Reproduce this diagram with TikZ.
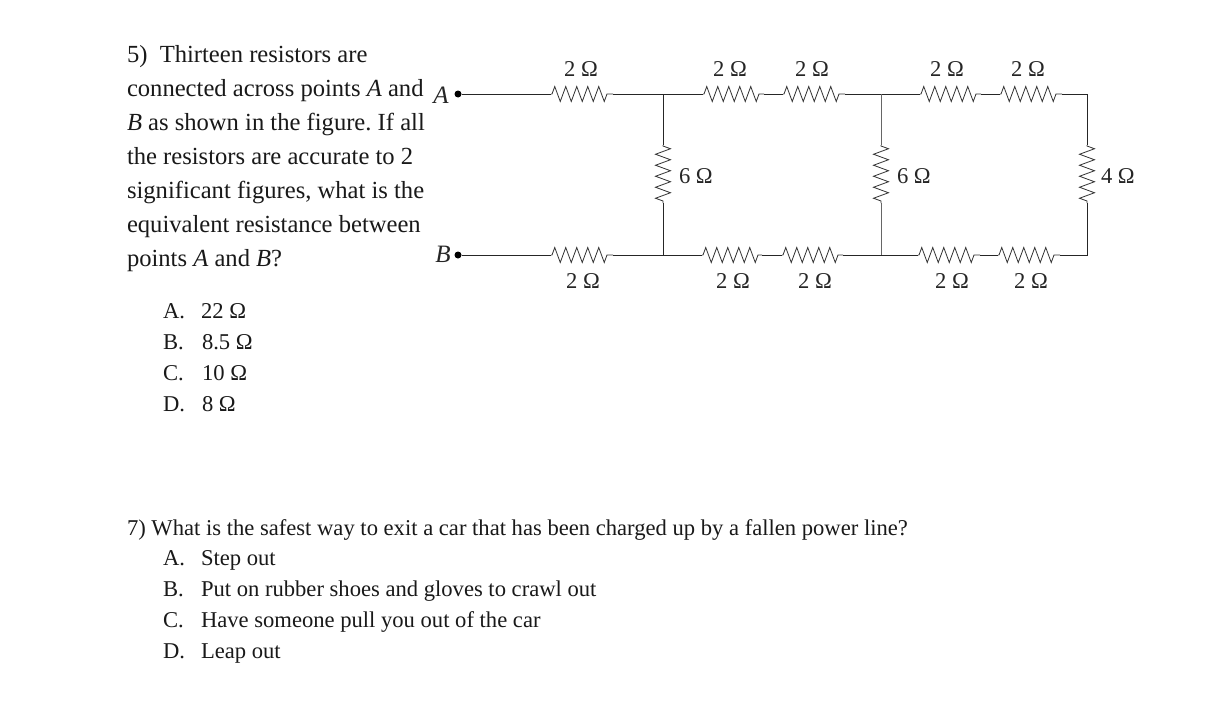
\documentclass[tikz,border=0pt]{standalone}
\usepackage{fontspec}
\setmainfont{Liberation Serif}
\usetikzlibrary{decorations.pathmorphing}
\tikzset{
  txt/.style={anchor=base west,inner sep=0pt,outer sep=0pt,font=\fontsize{22.6}{27}\selectfont\frenchspacing,text=black!90},
  txtb/.style={txt,font=\fontsize{24.6}{29}\selectfont\frenchspacing},
  lab/.style={anchor=base,inner sep=0pt,outer sep=0pt,font=\fontsize{22.6}{26}\selectfont,text=black!85},
  pole/.style={lab,font=\fontsize{25}{29}\selectfont\itshape},
  wire/.style={draw=black!85,line width=1pt},
  res/.style={draw=black!80,line width=.8pt,line join=miter,decorate,decoration={zigzag,segment length=11pt,amplitude=7.5pt,pre length=1pt,post length=1pt}},
  term/.style={circle,fill=black,inner sep=0pt,minimum size=7pt}
}
\begin{document}
\begin{tikzpicture}[x=1pt,y=-1pt]
\useasboundingbox (0,0) rectangle (1224,720);
\fill[white] (0,0) rectangle (1224,720);
% question 5
\node[txtb] (q1) at (127,62) {5)\ \ Thirteen resistors are};
\node[txtb] (q2) at (127,96.5) {connected across points \textit{A} and};
\node[txtb] (q3) at (127,130) {\textit{B} as shown in the figure. If all};
\node[txtb] (q4) at (127,164) {the resistors are accurate to 2};
\node[txtb] (q5) at (127,198) {significant figures, what is the};
\node[txtb] (q6) at (127,232) {equivalent resistance between};
\node[txtb] (q7) at (127,266) {points \textit{A} and \textit{B}?};
\node[txt] (a1) at (163,318) {A.}; \node[txt] (a1t) at (201,318) {22 Ω};
\node[txt] (a2) at (163,349) {B.}; \node[txt] (a2t) at (202,349) {8.5 Ω};
\node[txt] (a3) at (163,380) {C.}; \node[txt] (a3t) at (202,380) {10 Ω};
\node[txt] (a4) at (163,411) {D.}; \node[txt] (a4t) at (202,411) {8 Ω};
% question 7
\node[txt] (r1) at (127,535) {7) What is the safest way to exit a car that has been charged up by a fallen power line?};
\node[txt] (b1) at (163,565) {A.}; \node[txt] (b1t) at (201,565) {Step out};
\node[txt] (b2) at (163,596) {B.}; \node[txt] (b2t) at (201,596) {Put on rubber shoes and gloves to crawl out};
\node[txt] (b3) at (163,627) {C.}; \node[txt] (b3t) at (201,627) {Have someone pull you out of the car};
\node[txt] (b4) at (163,658) {D.}; \node[txt] (b4t) at (201,658) {Leap out};
% terminals
\node[term] (A) at (458,94) {};
\node[term] (B) at (458,255) {};
\node[pole] (Al) at (441,103) {A};
\node[pole] (Bl) at (443,262) {B};
% circuit points
\foreach \n/\x in {a/551,b/613,J/663,c/703,d/764,e/783,f/845,K/881,g/920,h/981,i/1000,j/1062,R/1087}
  \coordinate (t\n) at (\x,94);
\foreach \n/\x in {a/551,b/613,J/663,c/702,d/762,e/782,f/843,K/881,g/918,h/980,i/998,j/1060,R/1087}
  \coordinate (u\n) at (\x,255);
\foreach \n/\x in {J/663,K/881,R/1087}{
  \coordinate (v\n1) at (\x,145);
  \coordinate (v\n2) at (\x,203);
}
% wires
\draw[wire] (A) -- (ta) (tb) -- (tc) (td) -- (te) (tf) -- (tg) (th) -- (ti);
\draw[wire] (tj) -- (tR) -- (vR1) (vR2) -- (uR) -- (uj);
\draw[wire] (B) -- (ua) (ub) -- (uc) (ud) -- (ue) (uf) -- (ug) (uh) -- (ui);
\draw[wire] (tJ) -- (vJ1) (vJ2) -- (uJ);
\draw[wire,draw=black!60] (tK) -- (vK1) (vK2) -- (uK);
% resistors
\foreach \p/\q in {ta/tb,tc/td,te/tf,tg/th,ti/tj,ua/ub,uc/ud,ue/uf,ug/uh,ui/uj,vJ1/vJ2,vK1/vK2,vR1/vR2}
  \draw[res] (\p) -- (\q);
% labels
\foreach \n/\x in {1/581,2/730,3/812,4/947,5/1028}
  \node[lab] (lt\n) at (\x,76) {2 Ω};
\foreach \n/\x in {1/583,2/733,3/815,4/952,5/1031}
  \node[lab] (lb\n) at (\x,288) {2 Ω};
\node[lab,anchor=base west] (l6a) at (679,183) {6 Ω};
\node[lab,anchor=base west] (l6b) at (897,183) {6 Ω};
\node[lab,anchor=base west] (l4) at (1101,183) {4 Ω};
\end{tikzpicture}
\end{document}
